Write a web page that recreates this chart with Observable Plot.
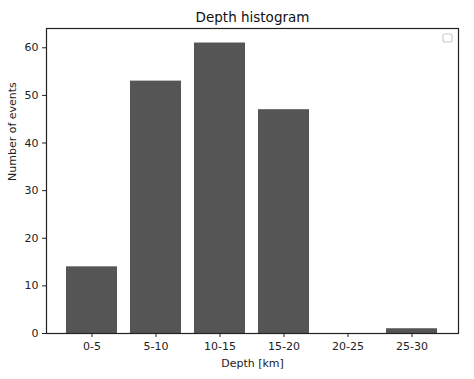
<!DOCTYPE html>
<html>
<head>
<meta charset="utf-8">
<script src="https://cdn.jsdelivr.net/npm/d3@7"></script>
<script src="https://cdn.jsdelivr.net/npm/@observablehq/plot@0.6"></script>
<style>
  body { margin: 0; background: #fff; }
  #chart svg { font-family: "DejaVu Sans", sans-serif; }
</style>
</head>
<body>
<div id="chart"></div>
<script>
const categories = ["0-5", "5-10", "10-15", "15-20", "20-25", "25-30"];
const counts = [14, 53, 61, 47, 0, 1];
const yTicks = [0, 10, 20, 30, 40, 50, 60];

const data = categories.map((c, i) => ({depth: c, count: counts[i]}));

const chart = Plot.plot({
  width: 474,
  height: 379,
  marginTop: 28,
  marginBottom: 46,
  marginLeft: 46,
  marginRight: 16,
  style: {fontFamily: "DejaVu Sans, sans-serif", fontSize: "11px", color: "#222", background: "#fff"},
  x: {domain: categories, paddingInner: 0.2, paddingOuter: 0.29, label: null},
  y: {domain: [0, 64.05], label: null},
  marks: [
    Plot.barY(data, {x: "depth", y: "count", fill: "#555555"}),
    Plot.axisX({tickSize: 4, tickPadding: 5, fontSize: 11, label: null}),
    Plot.axisY({ticks: yTicks, tickSize: 4, tickPadding: 4, fontSize: 11, label: null}),
    Plot.frame({stroke: "#222", strokeWidth: 1.2}),
    Plot.text(["Depth histogram"], {frameAnchor: "top", dy: -16, fontSize: 13.5, fill: "#111"}),
    Plot.text(["Depth [km]"], {frameAnchor: "bottom", dy: 33, fontSize: 11, fill: "#222"}),
    Plot.text(["Number of events"], {frameAnchor: "left", dx: -34, rotate: -90, fontSize: 11, fill: "#222"})
  ]
});
document.getElementById("chart").appendChild(chart);

// empty legend box (top right)
d3.select(chart).append("rect")
  .attr("x", 443).attr("y", 34).attr("width", 9).attr("height", 8)
  .attr("rx", 2).attr("fill", "#fff").attr("stroke", "#ccc").attr("stroke-width", 1.2);
</script>
</body>
</html>
